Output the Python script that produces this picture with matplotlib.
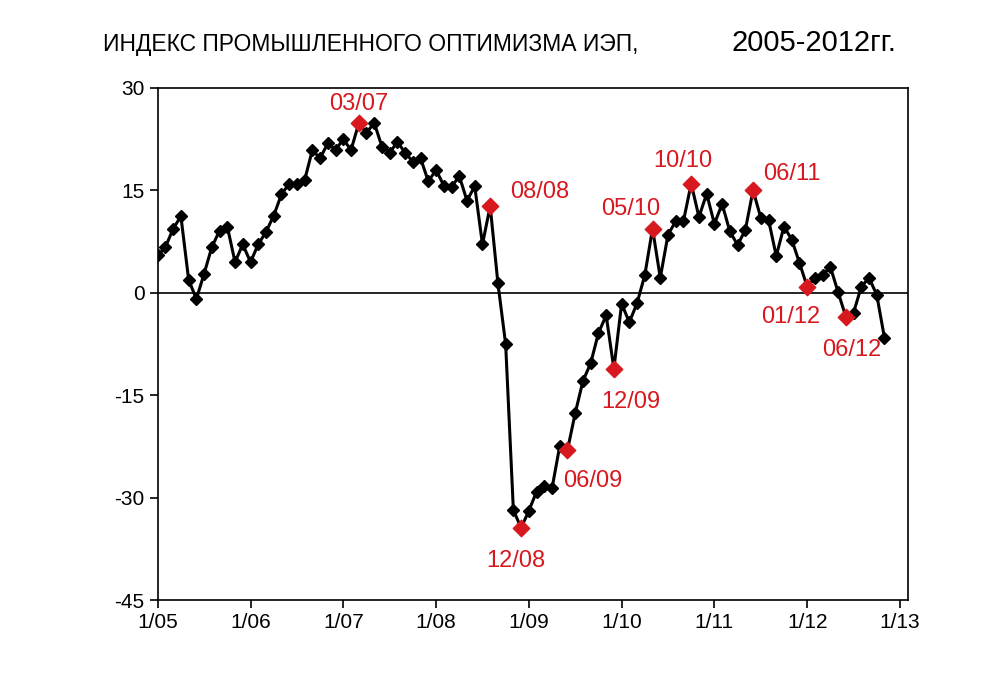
import matplotlib.pyplot as plt
import numpy as np

plt.rcParams['font.family'] = ['Liberation Sans', 'DejaVu Sans']

# месячные значения индекса, 1/05 .. 11/12
values = [5.5, 6.7, 9.4, 11.2, 1.9, -0.9, 2.8, 6.7, 9.1, 9.7, 4.5, 7.1,
          4.5, 7.1, 8.9, 11.3, 14.4, 16.0, 15.9, 16.5, 20.9, 19.7, 21.9, 20.9,
          22.5, 20.9, 24.8, 23.4, 24.9, 21.4, 20.5, 22.1, 20.5, 19.2, 19.7, 16.3,
          18.0, 15.7, 15.5, 17.1, 13.5, 15.6, 7.1, 12.7, 1.4, -7.5, -31.8, -34.4,
          -31.9, -29.1, -28.3, -28.6, -22.4, -23.0, -17.6, -12.9, -10.3, -5.9, -3.3, -11.1,
          -1.6, -4.3, -1.5, 2.6, 9.4, 2.2, 8.5, 10.5, 10.5, 16.0, 11.1, 14.5,
          10.1, 13.0, 9.0, 7.0, 9.2, 15.0, 11.0, 10.7, 5.4, 9.7, 7.8, 4.4,
          0.9, 2.2, 2.6, 3.8, 0.1, -3.5, -2.9, 0.9, 2.2, -0.3, -6.6]

# отмеченные точки: индекс месяца, подпись, смещение подписи
marked = [26, 43, 47, 53, 59, 64, 69, 77, 84, 89]
marked_labels = ["03/07", "08/08", "12/08", "06/09", "12/09", "05/10", "10/10", "06/11", "01/12", "06/12"]
label_offsets = [(0, 14), (36, 10), (-4, -24), (18, -22), (12, -24), (-16, 14), (-6, 16), (28, 12), (-12, -22), (4, -24)]

tick_pos = list(range(0, 97, 12))
tick_labels = ["1/05", "1/06", "1/07", "1/08", "1/09", "1/10", "1/11", "1/12", "1/13"]

red = "#d7191f"
x = np.arange(len(values))
v = np.array(values)

fig = plt.figure(figsize=(9.92, 6.76), dpi=100)
ax = fig.add_axes([0.159, 0.112, 0.756, 0.758])
ax.plot(x, v, color="black", lw=2.2, marker="D", ms=6, zorder=2)
ax.scatter(x[marked], v[marked], marker="D", s=70, color=red, zorder=3)
for i, lab, (dx, dy) in zip(marked, marked_labels, label_offsets):
    ax.annotate(lab, (x[i], v[i]), xytext=(dx, dy), textcoords="offset points",
                ha="center", va="center", color=red, fontsize=17)

ax.axhline(0, color="black", lw=1.2, zorder=1)
ax.set_xlim(0, 97)
ax.set_ylim(-45, 30)
ax.set_yticks([-45, -30, -15, 0, 15, 30])
ax.set_yticklabels(["-45", "-30", "-15", "0", "15", "30"])
ax.set_xticks(tick_pos)
ax.set_xticklabels(tick_labels)
ax.tick_params(labelsize=15, direction="out", length=6, width=1.2)
for s in ax.spines.values():
    s.set_linewidth(1.2)

fig.text(0.104, 0.925, "ИНДЕКС ПРОМЫШЛЕННОГО ОПТИМИЗМА ИЭП,", fontsize=16.5, va="baseline")
fig.text(0.737, 0.925, "2005-2012гг.", fontsize=21, va="baseline")

fig.savefig("out.png", dpi=100, facecolor="white")
